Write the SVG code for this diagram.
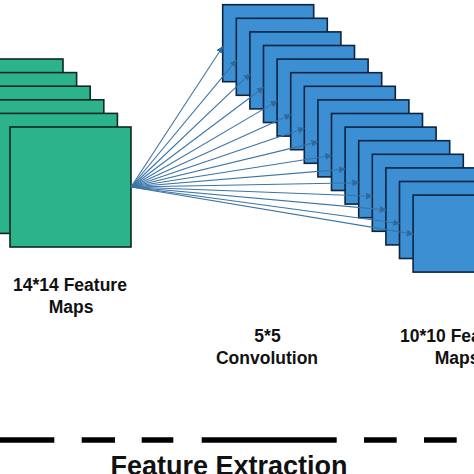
<svg xmlns="http://www.w3.org/2000/svg" width="474" height="474" viewBox="0 0 474 474">
<style>
.g{fill:#2db38c;stroke:#10281f;stroke-width:1.6}
.b{fill:#3d8fd4;stroke:#0c2440;stroke-width:1.6}
.a{stroke:#3b74a6;stroke-width:1.1;fill:none;marker-end:url(#ah)}
.t{font-family:"Liberation Sans",Arial,sans-serif;font-weight:bold;font-size:17.5px;fill:#111;text-anchor:middle}
.d{stroke:#000;stroke-width:5.5}
</style>
<defs>
<marker id="ah" viewBox="0 0 10 10" refX="9" refY="5" markerWidth="7" markerHeight="7" markerUnits="userSpaceOnUse" orient="auto"><path d="M0,0L10,5L0,10z" fill="#2f6a9c"/></marker>
</defs>
<rect width="474" height="474" fill="#fff"/>
<g id="green-maps">
<rect class="g" x="-58" y="59" width="121" height="120"/>
<rect class="g" x="-44.4" y="72.6" width="121" height="120"/>
<rect class="g" x="-30.8" y="86.2" width="121" height="120"/>
<rect class="g" x="-17.2" y="99.8" width="121" height="120"/>
<rect class="g" x="-3.6" y="113.4" width="121" height="120"/>
<rect class="g" x="10" y="127" width="121" height="120"/>
</g>
<g id="blue-maps">
<rect class="b" x="222.7" y="4.7" width="91" height="77"/>
<rect class="b" x="236.3" y="18.3" width="91" height="77"/>
<rect class="b" x="249.9" y="31.9" width="91" height="77"/>
<rect class="b" x="263.5" y="45.5" width="91" height="77"/>
<rect class="b" x="277.1" y="59.1" width="91" height="77"/>
<rect class="b" x="290.7" y="72.7" width="91" height="77"/>
<rect class="b" x="304.3" y="86.3" width="91" height="77"/>
<rect class="b" x="317.9" y="99.9" width="91" height="77"/>
<rect class="b" x="331.5" y="113.5" width="91" height="77"/>
<rect class="b" x="345.1" y="127.1" width="91" height="77"/>
<rect class="b" x="358.7" y="140.7" width="91" height="77"/>
<rect class="b" x="372.3" y="154.3" width="91" height="77"/>
<rect class="b" x="385.9" y="167.9" width="91" height="77"/>
<rect class="b" x="399.5" y="181.5" width="91" height="77"/>
<rect class="b" x="413.1" y="195.1" width="91" height="77"/>
</g>
<g id="connectors">
<line class="a" x1="131" y1="187" x2="222.7" y2="46.7"/>
<line class="a" x1="131" y1="187" x2="236.3" y2="60.3"/>
<line class="a" x1="131" y1="187" x2="249.9" y2="73.9"/>
<line class="a" x1="131" y1="187" x2="263.5" y2="87.5"/>
<line class="a" x1="131" y1="187" x2="277.1" y2="101.1"/>
<line class="a" x1="131" y1="187" x2="290.7" y2="114.7"/>
<line class="a" x1="131" y1="187" x2="304.3" y2="128.3"/>
<line class="a" x1="131" y1="187" x2="317.9" y2="141.9"/>
<line class="a" x1="131" y1="187" x2="331.5" y2="155.5"/>
<line class="a" x1="131" y1="187" x2="345.1" y2="169.1"/>
<line class="a" x1="131" y1="187" x2="358.7" y2="182.7"/>
<line class="a" x1="131" y1="187" x2="372.3" y2="196.3"/>
<line class="a" x1="131" y1="187" x2="385.9" y2="209.9"/>
<line class="a" x1="131" y1="187" x2="399.5" y2="223.5"/>
<line class="a" x1="131" y1="187" x2="413.1" y2="234.1"/>
</g>
<g id="labels">
<text class="t" x="70" y="290.5">14*14 Feature</text>
<text class="t" x="71" y="312.5">Maps</text>
<text class="t" x="267.5" y="342.3">5*5</text>
<text class="t" x="267" y="364">Convolution</text>
<text class="t" x="457" y="342.3">10*10 Feature</text>
<text class="t" x="457" y="364">Maps</text>
</g>
<g id="divider">
<line class="d" x1="0" y1="440" x2="54.3" y2="440"/>
<line class="d" x1="81.7" y1="440" x2="115" y2="440"/>
<line class="d" x1="141.7" y1="440" x2="173.3" y2="440"/>
<line class="d" x1="201.7" y1="440" x2="336.7" y2="440"/>
<line class="d" x1="364" y1="440" x2="396.7" y2="440"/>
<line class="d" x1="424" y1="440" x2="456.7" y2="440"/>
</g>
<text class="t" style="font-size:27px" x="229" y="474.5">Feature Extraction</text>
</svg>
